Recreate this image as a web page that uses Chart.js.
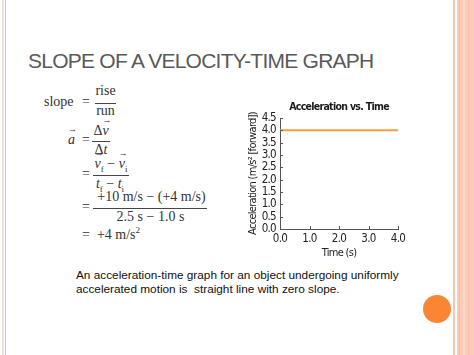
<!DOCTYPE html>
<html>
<head>
<meta charset="utf-8">
<script src="https://cdn.jsdelivr.net/npm/chart.js@4.4.1/dist/chart.umd.min.js"></script>
<style>
  html, body { margin:0; padding:0; width:474px; height:355px; overflow:hidden; background:#fff; }
  .abs { position:absolute; white-space:nowrap; }
  .eq { font-family:'Liberation Serif','DejaVu Serif',serif; font-size:14px; color:#333; line-height:14px; }
  .vec { position:relative; display:inline-block; }
  .vec .arr { position:absolute; left:0; right:0; top:-8px; font-size:9px; text-align:center; font-style:normal; line-height:9px; }
  .bar { position:absolute; height:1px; background:#444; }
  #chartBox { position:absolute; left:230px; top:95px; width:218px; height:165px; }
</style>
</head>
<body>
<!-- slide borders -->
<div class="abs" style="left:2px;top:0;width:2px;height:355px;background:#fadbd0;"></div>
<div class="abs" style="left:5px;top:0;width:1px;height:355px;background:#f4b5a3;"></div>
<div class="abs" style="left:453px;top:0;width:2px;height:355px;background:#f8c4b4;"></div>
<div class="abs" style="left:457px;top:0;width:17px;height:355px;background:#fccbb9;"></div>
<div class="abs" style="left:459px;top:0;width:1px;height:355px;background:#f7b9a4;"></div>
<div class="abs" style="left:463px;top:0;width:2px;height:355px;background:#fdd8ca;"></div>
<div class="abs" style="left:468px;top:0;width:1px;height:355px;background:#f8bea9;"></div>

<!-- slide title -->
<div class="abs" id="slideTitle" style="left:28px;top:48px;font-family:'Liberation Sans',Arial,sans-serif;font-size:21px;letter-spacing:-0.75px;line-height:26px;color:#595959;">SLOPE OF A VELOCITY-TIME GRAPH</div>

<!-- equations -->
<div id="eqs"></div>

<!-- caption -->
<div class="abs" style="left:76px;top:268px;font-family:'Liberation Sans',Arial,sans-serif;font-size:11.8px;line-height:14px;color:#111;">An acceleration-time graph for an object undergoing uniformly<br>accelerated motion is &nbsp;straight line with zero slope.</div>

<!-- orange circle -->
<div class="abs" style="left:423px;top:295px;width:28px;height:28px;border-radius:50%;background:#fa8535;"></div>

<div id="chartBox"><canvas id="c" width="218" height="165"></canvas></div>

<script>
// ---------- chart data ----------
const chartTitle = 'Acceleration vs. Time';
const xAxisTitle = 'Time (s)';
const yAxisTitle = 'Acceleration (m/s\u00B2 [forward])';
const timeValues = [0, 1, 2, 3, 4];
const accelValues = [4, 4, 4, 4, 4];
const xTickLabels = ['0.0', '1.0', '2.0', '3.0', '4.0'];
const yTickLabels = ['0.0', '0.5', '1.0', '1.5', '2.0', '2.5', '3.0', '3.5', '4.0', '4.5'];

// ---------- equations (HTML text) ----------
const eqs = document.getElementById('eqs');
function put(html, x, cy, align) {
  const d = document.createElement('div');
  d.className = 'abs eq';
  d.innerHTML = html;
  d.style.top = (cy - 8) + 'px';
  d.style.left = x + 'px';
  if (align === 'center') d.style.transform = 'translateX(-50%)';
  eqs.appendChild(d);
}
function bar(x1, x2, y) {
  const b = document.createElement('div');
  b.className = 'bar';
  b.style.left = x1 + 'px'; b.style.width = (x2 - x1) + 'px'; b.style.top = y + 'px';
  eqs.appendChild(b);
}
const V = (letter) => '<span class="vec"><i>' + letter + '</i><span class="arr">&rarr;</span></span>';
const SUB = (s) => '<sub style="font-size:9px;line-height:0">' + s + '</sub>';
// row 1
put('slope', 44, 103);
put('=', 82, 103);
put('rise', 105.5, 92, 'center');
bar(95, 116, 103);
put('run', 105.5, 112, 'center');
// row 2
put(V('a'), 68, 141);
put('=', 82, 141);
put('&Delta;' + V('v'), 101, 132, 'center');
bar(92, 110, 141);
put('&Delta;<i>t</i>', 101, 151, 'center');
// row 3
put('=', 82, 175);
put(V('v') + SUB('f') + ' &minus; ' + V('v') + SUB('i'), 111, 165, 'center');
bar(93, 129, 175);
put('<i>t</i>' + SUB('f') + ' &minus; <i>t</i>' + SUB('i'), 110, 185, 'center');
// row 4
put('=', 82, 208);
put('+10 m/s &minus; (+4 m/s)', 151.5, 198, 'center');
bar(93, 207, 208);
put('2.5 s &minus; 1.0 s', 150.5, 218, 'center');
// row 5
put('= &nbsp;+4 m/s<sup style="font-size:9px;line-height:0">2</sup>', 82, 236);

// ---------- chart ----------
const FONT = "'Liberation Sans Narrow','DejaVu Sans Condensed','Liberation Sans',sans-serif";
const condensedText = {
  id: 'condensedText',
  beforeInit(chart) { chart.ctx.letterSpacing = '-0.7px'; },
  beforeLayout(chart) { chart.ctx.letterSpacing = '-0.7px'; },
  beforeDraw(chart) { chart.ctx.letterSpacing = '-0.7px'; }
};
const innerTicks = {
  id: 'innerTicks',
  afterDraw(chart) {
    const ctx = chart.ctx;
    const xs = chart.scales.x, ys = chart.scales.y;
    ctx.save();
    ctx.strokeStyle = '#555';
    ctx.lineWidth = 1;
    ctx.beginPath();
    xs.ticks.forEach(t => {
      const px = Math.round(xs.getPixelForValue(t.value)) + 0.5;
      ctx.moveTo(px, xs.top); ctx.lineTo(px, xs.top - 3);
    });
    ys.ticks.forEach(t => {
      const py = Math.round(ys.getPixelForValue(t.value)) + 0.5;
      ctx.moveTo(ys.right, py); ctx.lineTo(ys.right + 3, py);
    });
    ctx.stroke();
    ctx.restore();
  }
};

new Chart(document.getElementById('c'), {
  type: 'line',
  data: {
    datasets: [{
      data: timeValues.map((t, i) => ({ x: t, y: accelValues[i] })),
      borderColor: '#f5a03e',
      borderWidth: 2,
      pointRadius: 0,
      tension: 0,
      clip: false
    }]
  },
  options: {
    responsive: false,
    animation: false,
    devicePixelRatio: 1,
    layout: { padding: 0 },
    plugins: {
      legend: { display: false },
      tooltip: { enabled: false },
      title: {
        display: true,
        text: chartTitle,
        color: '#1a1a1a',
        font: { family: FONT, size: 10.5, weight: 'bold', lineHeight: 1.2 },
        padding: { top: 5.5, bottom: 4.9 }
      }
    },
    scales: {
      x: {
        type: 'linear', min: 0, max: 4,
        grid: { display: true, drawOnChartArea: false, drawTicks: false },
        border: { display: true, color: '#555', width: 1 },
        ticks: {
          stepSize: 1, autoSkip: false, maxRotation: 0, padding: 3,
          color: '#222', font: { family: FONT, size: 11.5 },
          callback: (v, i) => xTickLabels[i]
        },
        title: { display: true, text: xAxisTitle, color: '#222', font: { family: FONT, size: 11 }, padding: { top: 0, bottom: 0 } },
        afterFit(s) { s.height = 31; }
      },
      y: {
        type: 'linear', min: 0, max: 4.5,
        grid: { display: true, drawOnChartArea: false, drawTicks: false },
        border: { display: true, color: '#555', width: 1 },
        ticks: {
          stepSize: 0.5, autoSkip: false, padding: 4,
          color: '#222', font: { family: FONT, size: 11.5 },
          callback: (v, i) => yTickLabels[i]
        },
        title: { display: true, text: yAxisTitle, color: '#222', font: { family: FONT, size: 11 }, padding: { top: 17, bottom: 0 } },
        afterFit(s) { s.width = 50; }
      },
      y2: {
        position: 'right', display: true,
        grid: { display: false }, border: { display: false },
        ticks: { display: false },
        afterFit(s) { s.width = 50; }
      }
    }
  },
  plugins: [condensedText, innerTicks]
});
</script>
</body>
</html>
